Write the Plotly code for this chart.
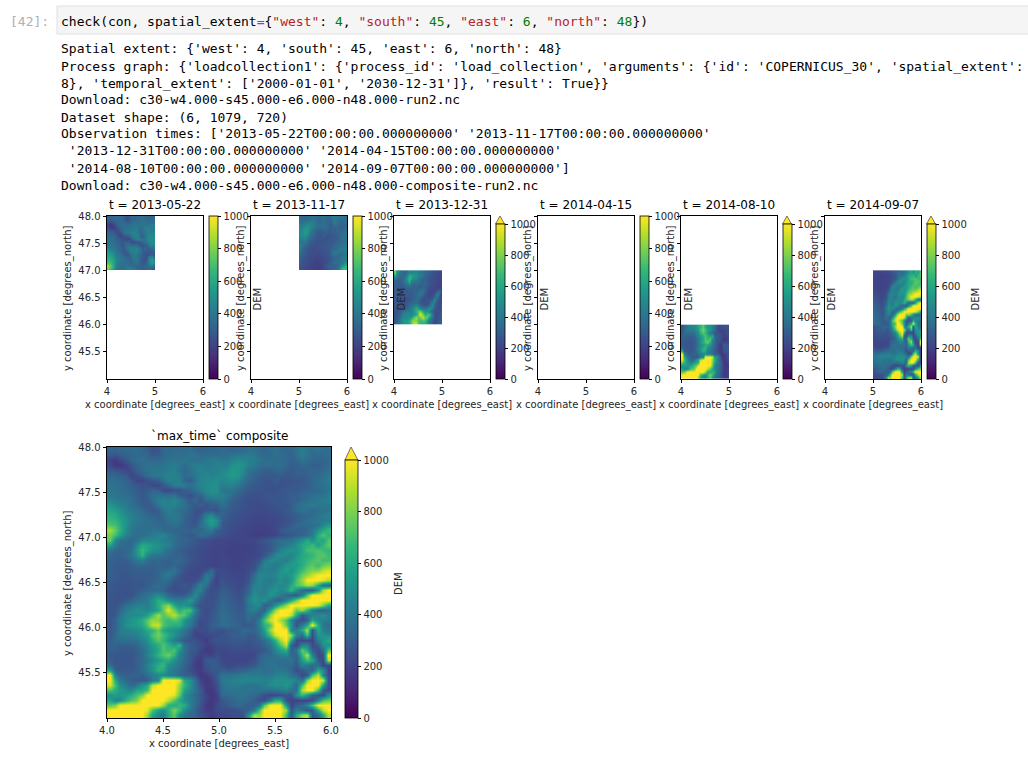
import numpy as np
import plotly.graph_objects as go

W = 1028
H = 758

# elevation read off the `max_time` composite, one block per degree tile,
# in tens of metres, north row first, west column first
elev_w_47 = [
    [33, 32, 33, 34, 34, 35, 33, 30, 25, 26, 34, 33, 34, 35, 34, 36, 33, 31, 32, 33, 33],
    [28, 26, 29, 31, 33, 34, 34, 33, 28, 29, 33, 35, 36, 35, 36, 38, 38, 36, 35, 36, 35],
    [20, 17, 22, 27, 32, 35, 36, 36, 34, 34, 36, 38, 39, 38, 40, 38, 36, 37, 40, 41, 42],
    [22, 17, 16, 20, 27, 32, 35, 37, 37, 37, 38, 40, 42, 40, 35, 39, 42, 43, 41, 42, 44],
    [29, 26, 25, 21, 23, 30, 34, 37, 39, 40, 40, 42, 43, 38, 33, 37, 42, 45, 44, 43, 44],
    [33, 32, 30, 28, 21, 24, 30, 35, 39, 40, 42, 45, 44, 42, 35, 36, 40, 44, 46, 44, 46],
    [36, 35, 33, 32, 28, 21, 21, 25, 27, 30, 37, 44, 44, 44, 32, 30, 38, 45, 47, 48, 48],
    [38, 37, 36, 33, 30, 28, 26, 25, 22, 22, 28, 33, 42, 43, 42, 37, 40, 46, 48, 48, 50],
    [38, 37, 36, 34, 32, 30, 27, 29, 33, 30, 24, 22, 25, 26, 29, 32, 36, 42, 47, 50, 50],
    [40, 39, 37, 36, 34, 30, 28, 31, 35, 38, 36, 36, 38, 30, 28, 25, 30, 31, 42, 47, 46],
    [46, 42, 40, 38, 36, 32, 28, 29, 36, 42, 45, 42, 46, 42, 36, 28, 34, 27, 34, 36, 38],
    [52, 48, 44, 40, 37, 34, 30, 28, 30, 38, 44, 44, 45, 40, 38, 31, 28, 30, 26, 30, 30],
    [58, 55, 50, 44, 40, 38, 34, 30, 27, 30, 38, 42, 40, 36, 35, 30, 26, 24, 27, 28, 25],
    [62, 60, 54, 47, 43, 40, 37, 34, 32, 30, 34, 40, 40, 38, 33, 29, 25, 28, 42, 48, 34],
    [66, 64, 58, 50, 44, 40, 38, 37, 35, 33, 33, 38, 40, 37, 32, 28, 25, 32, 48, 56, 50],
    [72, 70, 60, 50, 42, 38, 36, 36, 36, 34, 33, 34, 36, 34, 30, 28, 28, 36, 44, 54, 46],
    [86, 76, 62, 48, 40, 37, 36, 36, 38, 38, 35, 34, 32, 32, 32, 30, 34, 32, 38, 40, 30],
    [78, 70, 56, 44, 38, 36, 36, 38, 42, 44, 46, 40, 36, 32, 30, 28, 30, 36, 34, 30, 27],
]
elev_e_47 = [
    [34, 33, 32, 33, 35, 36, 36, 34, 33, 35, 37, 34, 32, 33, 38, 42, 38, 36, 38, 36, 35],
    [36, 36, 38, 40, 40, 42, 40, 36, 34, 33, 36, 35, 33, 32, 36, 42, 38, 33, 34, 34, 36],
    [40, 40, 44, 48, 46, 44, 42, 38, 36, 36, 36, 35, 34, 30, 33, 38, 36, 33, 33, 32, 34],
    [44, 44, 50, 52, 50, 44, 40, 36, 35, 36, 35, 36, 32, 30, 30, 32, 33, 30, 30, 32, 34],
    [46, 48, 54, 52, 46, 38, 34, 33, 30, 30, 32, 33, 30, 29, 30, 30, 32, 33, 33, 34, 36],
    [48, 50, 54, 52, 44, 36, 32, 30, 28, 28, 28, 30, 28, 28, 30, 30, 30, 33, 34, 36, 40],
    [46, 48, 50, 46, 38, 34, 30, 28, 27, 26, 30, 26, 26, 26, 27, 28, 30, 33, 36, 38, 42],
    [42, 44, 44, 40, 34, 30, 28, 27, 26, 26, 26, 25, 26, 28, 28, 28, 30, 33, 36, 38, 40],
    [38, 38, 38, 34, 30, 28, 27, 26, 26, 25, 25, 27, 28, 28, 28, 30, 32, 32, 34, 36, 38],
    [44, 40, 34, 30, 28, 26, 25, 25, 26, 27, 26, 27, 28, 30, 30, 33, 34, 36, 38, 38, 42],
    [40, 36, 30, 28, 26, 24, 24, 24, 25, 26, 28, 27, 28, 30, 30, 34, 36, 38, 40, 42, 44],
    [36, 33, 28, 27, 26, 24, 24, 23, 24, 25, 26, 27, 27, 30, 36, 38, 40, 43, 40, 40, 40],
    [33, 30, 28, 26, 24, 24, 23, 23, 22, 24, 25, 25, 28, 30, 34, 38, 36, 34, 36, 38, 38],
    [32, 28, 26, 25, 24, 23, 22, 22, 22, 22, 23, 24, 26, 28, 30, 33, 33, 34, 38, 42, 44],
    [30, 27, 25, 24, 23, 22, 21, 21, 21, 22, 22, 23, 25, 27, 30, 33, 36, 38, 40, 40, 42],
    [28, 26, 24, 23, 22, 21, 20, 20, 20, 21, 22, 24, 26, 30, 33, 34, 35, 36, 38, 48, 54],
    [27, 25, 23, 22, 21, 20, 20, 19, 19, 20, 22, 27, 30, 31, 30, 30, 33, 38, 52, 60, 66],
    [25, 24, 22, 22, 21, 20, 19, 19, 19, 20, 21, 24, 26, 28, 30, 32, 36, 42, 62, 72, 64],
]
elev_w_46 = [
    [76, 48, 38, 36, 33, 36, 46, 46, 46, 46, 44, 40, 36, 33, 32, 30, 27, 25, 24, 23, 22],
    [56, 42, 34, 33, 34, 46, 60, 58, 54, 50, 46, 44, 36, 33, 31, 28, 26, 24, 23, 22, 21],
    [38, 34, 32, 33, 36, 52, 66, 58, 50, 48, 42, 36, 33, 30, 28, 26, 24, 23, 22, 21, 21],
    [33, 31, 31, 34, 40, 48, 64, 46, 40, 38, 37, 34, 31, 32, 30, 26, 25, 23, 22, 21, 20],
    [32, 30, 29, 30, 34, 40, 44, 36, 33, 34, 32, 31, 33, 34, 30, 27, 24, 23, 22, 21, 21],
    [31, 29, 28, 28, 30, 33, 33, 32, 31, 32, 31, 30, 33, 30, 28, 24, 23, 22, 21, 20, 20],
    [31, 28, 28, 28, 29, 30, 30, 30, 30, 32, 33, 36, 38, 31, 26, 23, 22, 22, 24, 33, 24],
    [30, 29, 27, 27, 28, 29, 28, 29, 30, 33, 38, 42, 34, 27, 24, 22, 22, 24, 40, 38, 22],
    [29, 28, 27, 26, 27, 28, 28, 29, 30, 33, 36, 34, 28, 26, 23, 23, 24, 30, 44, 30, 20],
    [29, 27, 26, 26, 26, 27, 27, 30, 33, 35, 34, 30, 24, 26, 28, 26, 31, 46, 36, 24, 22],
    [28, 27, 26, 25, 26, 28, 30, 33, 33, 34, 32, 26, 24, 24, 25, 28, 42, 44, 28, 24, 24],
    [27, 26, 26, 26, 26, 30, 36, 38, 42, 48, 42, 34, 30, 28, 28, 36, 48, 34, 26, 24, 26],
    [27, 26, 26, 28, 32, 36, 38, 42, 50, 62, 58, 48, 42, 42, 44, 54, 42, 30, 25, 25, 27],
    [26, 26, 30, 36, 40, 42, 44, 42, 50, 62, 74, 82, 60, 50, 52, 46, 32, 25, 25, 25, 28],
    [27, 27, 33, 42, 46, 50, 48, 46, 50, 58, 76, 96, 78, 62, 70, 70, 44, 28, 23, 26, 29],
    [26, 28, 38, 46, 48, 48, 50, 56, 70, 86, 72, 80, 90, 76, 74, 54, 36, 27, 23, 27, 30],
    [27, 32, 42, 48, 52, 56, 62, 74, 84, 82, 72, 66, 72, 68, 52, 42, 32, 24, 24, 28, 31],
    [26, 32, 40, 50, 54, 54, 60, 72, 90, 92, 72, 66, 62, 62, 50, 40, 30, 22, 25, 30, 31],
]
elev_e_46 = [
    [22, 21, 21, 21, 21, 22, 22, 24, 27, 30, 33, 36, 36, 38, 44, 52, 60, 50, 62, 58, 72],
    [21, 21, 20, 20, 20, 20, 21, 23, 25, 28, 32, 36, 40, 44, 50, 60, 62, 68, 56, 66, 74],
    [21, 20, 20, 20, 20, 20, 21, 23, 25, 28, 34, 44, 50, 52, 50, 58, 70, 70, 72, 68, 66],
    [21, 20, 20, 20, 20, 21, 21, 23, 27, 36, 46, 50, 48, 44, 52, 60, 62, 66, 72, 74, 68],
    [21, 21, 20, 20, 20, 21, 23, 26, 38, 48, 46, 44, 42, 50, 56, 60, 66, 70, 74, 68, 70],
    [22, 21, 20, 20, 21, 22, 24, 33, 46, 44, 40, 44, 52, 54, 54, 62, 70, 74, 68, 76, 80],
    [23, 22, 21, 21, 21, 23, 27, 40, 44, 42, 42, 50, 56, 50, 58, 68, 76, 80, 80, 90, 94],
    [24, 23, 22, 21, 22, 24, 36, 46, 46, 44, 46, 52, 50, 54, 64, 78, 84, 92, 100, 100, 100],
    [26, 24, 23, 22, 22, 26, 38, 46, 42, 40, 44, 50, 46, 52, 70, 84, 100, 100, 100, 96, 88],
    [28, 26, 24, 22, 24, 30, 44, 46, 42, 44, 48, 48, 48, 60, 72, 78, 88, 84, 60, 36, 34],
    [30, 28, 26, 23, 26, 32, 46, 44, 42, 48, 52, 46, 52, 66, 50, 34, 30, 28, 52, 88, 100],
    [32, 30, 28, 24, 27, 36, 50, 46, 44, 52, 48, 42, 34, 30, 28, 44, 74, 100, 100, 100, 100],
    [33, 31, 28, 26, 28, 42, 52, 46, 50, 38, 32, 30, 44, 60, 78, 100, 100, 100, 100, 100, 100],
    [34, 32, 30, 27, 28, 40, 46, 48, 30, 34, 50, 66, 84, 100, 100, 100, 100, 100, 96, 80, 60],
    [35, 33, 31, 28, 28, 38, 44, 36, 32, 58, 84, 100, 100, 100, 76, 84, 66, 44, 34, 30, 36],
    [36, 34, 32, 29, 30, 36, 34, 30, 52, 82, 100, 100, 100, 90, 60, 26, 38, 44, 46, 50, 44],
    [37, 35, 33, 30, 28, 34, 30, 42, 70, 92, 100, 88, 72, 46, 30, 24, 30, 60, 46, 44, 42],
    [36, 35, 34, 32, 28, 28, 30, 44, 62, 72, 100, 100, 76, 52, 26, 42, 60, 100, 60, 38, 36],
]
elev_w_45 = [
    [28, 32, 42, 44, 46, 48, 52, 60, 64, 76, 60, 54, 50, 46, 38, 30, 22, 24, 24, 28, 26],
    [28, 34, 40, 42, 42, 44, 50, 54, 70, 78, 70, 60, 52, 44, 36, 28, 20, 20, 22, 22, 24],
    [30, 34, 36, 36, 36, 38, 44, 50, 62, 74, 66, 54, 42, 34, 28, 26, 26, 22, 18, 24, 27],
    [32, 32, 30, 30, 30, 32, 40, 46, 54, 62, 72, 64, 56, 66, 36, 30, 26, 24, 20, 20, 24],
    [30, 30, 28, 28, 28, 30, 36, 42, 50, 60, 72, 66, 72, 50, 38, 28, 28, 22, 17, 18, 22],
    [28, 28, 27, 27, 27, 29, 34, 44, 52, 64, 72, 78, 64, 44, 36, 28, 24, 20, 22, 20, 24],
    [30, 27, 27, 27, 27, 30, 34, 40, 46, 54, 60, 62, 50, 42, 34, 28, 20, 18, 28, 30, 28],
    [34, 28, 27, 27, 27, 30, 34, 44, 52, 62, 66, 50, 44, 38, 32, 26, 19, 17, 26, 28, 29],
    [56, 30, 28, 28, 28, 30, 36, 42, 50, 64, 60, 46, 40, 36, 30, 24, 20, 18, 24, 28, 28],
    [100, 44, 32, 30, 30, 32, 30, 36, 42, 46, 48, 42, 40, 34, 30, 30, 24, 16, 18, 22, 27],
    [100, 60, 40, 34, 30, 28, 28, 30, 40, 48, 100, 100, 100, 96, 60, 50, 36, 22, 16, 20, 26],
    [94, 70, 48, 40, 34, 38, 52, 60, 90, 100, 100, 100, 100, 84, 66, 52, 36, 24, 18, 18, 24],
    [72, 62, 54, 48, 46, 58, 60, 68, 100, 100, 100, 100, 100, 82, 58, 46, 38, 30, 17, 16, 22],
    [50, 56, 52, 56, 62, 70, 80, 100, 100, 100, 100, 100, 96, 76, 50, 42, 34, 28, 20, 16, 18],
    [58, 44, 48, 62, 72, 78, 100, 100, 100, 100, 100, 90, 74, 60, 50, 42, 36, 28, 20, 16, 19],
    [74, 80, 100, 100, 100, 100, 100, 100, 100, 100, 86, 64, 60, 66, 62, 44, 34, 26, 17, 16, 22],
    [100, 100, 100, 100, 100, 100, 100, 96, 72, 56, 50, 62, 80, 68, 50, 38, 32, 24, 18, 18, 22],
    [100, 100, 100, 100, 100, 100, 100, 84, 58, 46, 40, 60, 74, 50, 40, 34, 32, 26, 22, 17, 20],
]
elev_e_45 = [
    [24, 28, 28, 30, 34, 34, 32, 40, 56, 84, 100, 100, 100, 48, 42, 60, 88, 26, 60, 44, 38],
    [26, 28, 30, 30, 32, 28, 28, 36, 48, 70, 92, 100, 100, 84, 46, 36, 70, 24, 52, 52, 48],
    [26, 26, 28, 28, 28, 26, 28, 30, 36, 46, 64, 86, 100, 60, 24, 22, 22, 20, 44, 52, 60],
    [24, 24, 26, 26, 26, 24, 26, 28, 32, 40, 52, 70, 90, 30, 22, 44, 46, 22, 30, 50, 52],
    [22, 22, 24, 24, 24, 24, 24, 26, 28, 34, 46, 54, 62, 30, 38, 76, 60, 30, 22, 36, 70],
    [22, 22, 22, 22, 22, 21, 22, 30, 34, 34, 38, 44, 46, 34, 32, 66, 88, 44, 22, 24, 100],
    [22, 21, 21, 21, 21, 22, 24, 30, 36, 38, 36, 36, 36, 38, 30, 54, 70, 60, 28, 22, 90],
    [24, 22, 22, 24, 24, 26, 28, 34, 36, 38, 38, 36, 36, 34, 28, 44, 40, 36, 36, 20, 22],
    [30, 28, 28, 30, 32, 34, 36, 38, 36, 36, 40, 40, 38, 32, 24, 28, 34, 30, 60, 50, 20],
    [38, 38, 38, 40, 42, 42, 42, 42, 40, 40, 44, 46, 44, 38, 34, 22, 26, 70, 90, 46, 22],
    [40, 42, 44, 46, 46, 46, 46, 46, 44, 46, 50, 50, 50, 50, 44, 36, 80, 100, 100, 92, 24],
    [38, 40, 42, 42, 40, 38, 38, 40, 42, 48, 50, 48, 52, 46, 34, 70, 100, 100, 100, 56, 24],
    [36, 38, 38, 38, 38, 38, 38, 38, 38, 36, 38, 40, 44, 38, 36, 88, 100, 100, 70, 28, 22],
    [34, 34, 36, 38, 38, 36, 34, 30, 24, 21, 22, 24, 26, 24, 50, 66, 52, 30, 24, 24, 50],
    [28, 30, 32, 36, 36, 34, 30, 26, 22, 40, 60, 60, 26, 20, 20, 22, 20, 22, 44, 70, 76],
    [26, 28, 32, 34, 32, 30, 30, 36, 74, 100, 100, 100, 52, 20, 30, 34, 46, 70, 100, 100, 100],
    [24, 24, 24, 26, 28, 30, 42, 70, 100, 100, 100, 100, 84, 26, 42, 36, 26, 28, 62, 90, 100],
    [22, 22, 24, 24, 26, 50, 88, 84, 100, 100, 100, 100, 68, 28, 60, 84, 90, 28, 36, 60, 88],
]

# observation dates and the tile each one covers (west, east, south, north)
dates = ["2013-05-22", "2013-11-17", "2013-12-31", "2014-04-15", "2014-08-10", "2014-09-07"]
tiles = [(4, 5, 47, 48), (5, 6, 47, 48), (4, 5, 46, 47), None, (4, 5, 45, 46), (5, 6, 45, 47)]
extended = [False, False, True, False, True, True]

output_lines = [
    "Spatial extent: {'west': 4, 'south': 45, 'east': 6, 'north': 48}",
    "Process graph: {'loadcollection1': {'process_id': 'load_collection', 'arguments': {'id': 'COPERNICUS_30', 'spatial_extent':",
    "8}, 'temporal_extent': ['2000-01-01', '2030-12-31']}, 'result': True}}",
    "Download: c30-w4.000-s45.000-e6.000-n48.000-run2.nc",
    "Dataset shape: (6, 1079, 720)",
    "Observation times: ['2013-05-22T00:00:00.000000000' '2013-11-17T00:00:00.000000000'",
    "\u00a0'2013-12-31T00:00:00.000000000' '2014-04-15T00:00:00.000000000'",
    "\u00a0'2014-08-10T00:00:00.000000000' '2014-09-07T00:00:00.000000000']",
    "Download: c30-w4.000-s45.000-e6.000-n48.000-composite-run2.nc",
]

# (text, colour) pieces of the input cell
code_parts = [
    ("check(con, spatial_extent", "#000000"), ("=", "#aa22ff"), ("{", "#000000"),
    ('"west"', "#ba2121"), (": ", "#000000"), ("4", "#008000"), (", ", "#000000"),
    ('"south"', "#ba2121"), (": ", "#000000"), ("45", "#008000"), (", ", "#000000"),
    ('"east"', "#ba2121"), (": ", "#000000"), ("6", "#008000"), (", ", "#000000"),
    ('"north"', "#ba2121"), (": ", "#000000"), ("48", "#008000"), ("})", "#000000"),
]

# south row first for the heatmaps
z = 10.0 * np.vstack([np.hstack([elev_w_45, elev_e_45])[::-1],
                      np.hstack([elev_w_46, elev_e_46])[::-1],
                      np.hstack([elev_w_47, elev_e_47])[::-1]])
lon = 4 + (np.arange(z.shape[1]) + 0.5) / 21
lat = 45 + (np.arange(z.shape[0]) + 0.5) / 18

MONO = "DejaVu Sans Mono"
SANS = "DejaVu Sans"
TEXT = "#262626"
panel_left = [107, 251, 394, 538, 681, 825]


def px(x):
    return x / W


def py(y):
    return 1 - y / H


def label(text, x, y, size=10, color=TEXT, family=SANS, xanchor="center", yanchor="middle", angle=0):
    return dict(text=text, xref="paper", yref="paper", x=px(x), y=py(y), xanchor=xanchor, yanchor=yanchor,
                textangle=angle, showarrow=False, borderpad=0, font=dict(family=family, size=size, color=color))


def cbar(left, top, bottom, width):
    return dict(x=px(left), xanchor="left", xpad=0, y=py(top), yanchor="top", ypad=0,
                len=bottom - top, lenmode="pixels", thickness=width, thicknessmode="pixels",
                outlinewidth=0.8, outlinecolor="black", ticks="outside", ticklen=3.5,
                tickwidth=0.8, tickcolor="black", tickvals=[0, 200, 400, 600, 800, 1000],
                tickfont=dict(family=SANS, size=10, color=TEXT))


def axes(n, left, right, top, bottom, xticks, yticks, ylabels):
    common = dict(showgrid=False, zeroline=False, showline=True, mirror=True, linecolor="black",
                  linewidth=0.8, ticks="outside", ticklen=3.5, tickwidth=0.8, tickcolor="black",
                  tickfont=dict(family=SANS, size=10, color=TEXT))
    xa = dict(domain=[px(left), px(right)], range=[4, 6], anchor="y%d" % n, tickvals=xticks,
              ticktext=[("%g" % t if len(xticks) == 3 else "%.1f" % t) for t in xticks],
              title=dict(text="x coordinate [degrees_east]", standoff=4,
                         font=dict(family=SANS, size=10, color=TEXT)), **common)
    ya = dict(domain=[py(bottom), py(top)], range=[45, 48], anchor="x%d" % n, tickvals=yticks,
              ticktext=["%.1f" % t for t in yticks], showticklabels=ylabels, **common)
    return xa, ya


fig = go.Figure()
annotations = []
shapes = []
layout_axes = {}

# six small panels
for i, date in enumerate(dates):
    n = i + 1
    left = panel_left[i]
    right = left + 96
    xa, ya = axes(n, left, right, 216, 379, [4, 5, 6], [45.5, 46, 46.5, 47, 47.5, 48], i == 0)
    layout_axes["xaxis%d" % n] = xa
    layout_axes["yaxis%d" % n] = ya

    cb_left = right + 5.5
    cb_top = 224 if extended[i] else 216
    if tiles[i] is None:
        # no data on this date, a heatmap of nothing would lose its colorbar
        fig.add_trace(go.Scatter(x=[None], y=[None], mode="markers", xaxis="x%d" % n, yaxis="y%d" % n,
                                 marker=dict(color=[0], cmin=0, cmax=1000, colorscale="Viridis", showscale=True,
                                             colorbar=cbar(cb_left, cb_top, 379, 9))))
    else:
        west, east, south, north = tiles[i]
        xs = (lon > west) & (lon < east)
        ys = (lat > south) & (lat < north)
        fig.add_trace(go.Heatmap(x=lon[xs], y=lat[ys], z=z[np.ix_(ys, xs)], zmin=0, zmax=1000, colorscale="Viridis",
                                 zsmooth="best", xaxis="x%d" % n, yaxis="y%d" % n,
                                 colorbar=cbar(cb_left, cb_top, 379, 9)))
    if extended[i]:
        shapes.append(dict(type="path", xref="paper", yref="paper", fillcolor="#fde725",
                           path="M %f %f L %f %f L %f %f Z" % (px(cb_left), py(cb_top), px(cb_left + 4.5), py(216),
                                                               px(cb_left + 9), py(cb_top)),
                           line=dict(color="#555555", width=0.8)))
    annotations.append(label("t = " + date, (left + right) / 2, 213, size=12, color="black", yanchor="bottom"))
    annotations.append(label("y coordinate [degrees_north]", 68 if i == 0 else left - 10, 298, angle=-90))
    annotations.append(label("DEM", cb_left + 48, 299, angle=-90))

# composite panel
xa, ya = axes(7, 107, 331, 447, 718, [4, 4.5, 5, 5.5, 6], [45.5, 46, 46.5, 47, 47.5, 48], True)
layout_axes["xaxis7"] = xa
layout_axes["yaxis7"] = ya
fig.add_trace(go.Heatmap(x=lon, y=lat, z=z, zmin=0, zmax=1000, colorscale="Viridis", zsmooth="best",
                         xaxis="x7", yaxis="y7", colorbar=cbar(345, 460, 718, 13)))
shapes.append(dict(type="path", xref="paper", yref="paper", fillcolor="#fde725",
                   path="M %f %f L %f %f L %f %f Z" % (px(345), py(460), px(351), py(447), px(358), py(460)),
                   line=dict(color="#555555", width=0.8)))
annotations.append(label("`max_time` composite", 219, 444, size=12, color="black", yanchor="bottom"))
annotations.append(label("y coordinate [degrees_north]", 68, 583, angle=-90))
annotations.append(label("DEM", 398, 584, angle=-90))

# notebook cell above the figure
shapes.append(dict(type="rect", xref="paper", yref="paper", x0=px(57), x1=px(1040), y0=py(6), y1=py(34),
                   fillcolor="#f5f5f5", line=dict(color="#e0e0e0", width=1), layer="below"))
annotations.append(label("[42]:", 50, 21, size=13, color="#b0b0b0", family=MONO, xanchor="right"))
code = "".join('<span style="color:%s">%s</span>' % (c, t) for t, c in code_parts)
annotations.append(label(code, 60, 21, size=13, color="black", family=MONO, xanchor="left"))
for i, line in enumerate(output_lines):
    annotations.append(label(line, 60, 49 + i * 17, size=13, color="#000000", family=MONO, xanchor="left"))

fig.update_layout(width=W, height=H, margin=dict(l=0, r=0, t=0, b=0, autoexpand=False), paper_bgcolor="white",
                  plot_bgcolor="white", showlegend=False, annotations=annotations, shapes=shapes, **layout_axes)

fig.write_html("out.html", config=dict(displayModeBar=False), post_script="document.body.style.margin='0'")
